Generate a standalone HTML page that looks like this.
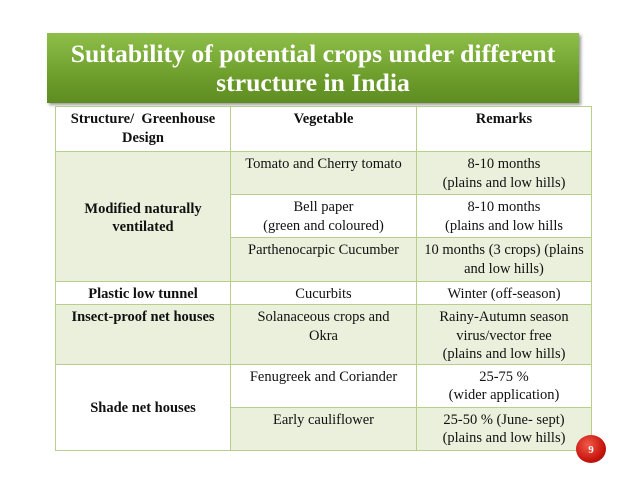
<!DOCTYPE html>
<html><head><meta charset="utf-8"><style>
body{margin:0;width:638px;height:493px;background:#fff;position:relative;overflow:hidden;font-family:"Liberation Serif",serif;}
#title{position:absolute;left:47px;top:33px;width:532px;height:70px;background:linear-gradient(#8fbf4a,#6e9e2c 60%,#5e8c22);box-shadow:2px 2px 3px #999;color:#fff;font-weight:bold;font-size:25.7px;line-height:29px;text-align:center;padding-top:6px;box-sizing:border-box;}
table{position:absolute;left:55px;top:106px;width:537px;border-collapse:collapse;font-size:14.5px;color:#111;}
td,th{border:1.5px solid #b8cf8a;text-align:center;vertical-align:top;padding:3px 4px 0 4px;line-height:18.5px;}
th{font-weight:bold;height:41px;}
.g{background:#eaf0dc}
.b{font-weight:bold}
.m{vertical-align:middle}
#tomato{position:absolute;left:576px;top:435px;width:30px;height:28px;border-radius:50%;background:radial-gradient(circle at 40% 35%,#f05a4a,#c9160f 60%,#8a0b06);color:#fff;font-size:11px;font-weight:bold;text-align:center;line-height:30px;}
</style></head><body>
<div id="title">Suitability of potential crops under different<br>structure in India</div>
<table>
<colgroup><col style="width:175px"><col style="width:186px"><col></colgroup>
<tr><th>Structure/&nbsp; Greenhouse Design</th><th>Vegetable</th><th>Remarks</th></tr>
<tr style="height:43px"><td rowspan="3" class="g b m">Modified naturally<br>ventilated</td><td class="g">Tomato and Cherry tomato</td><td class="g">8-10 months<br>(plains and low hills)</td></tr>
<tr style="height:43px"><td>Bell paper<br>(green and coloured)</td><td>8-10 months<br>(plains and low hills</td></tr>
<tr style="height:44px"><td class="g">Parthenocarpic Cucumber</td><td class="g">10 months (3 crops) (plains and low hills)</td></tr>
<tr style="height:23px"><td class="b">Plastic low tunnel</td><td>Cucurbits</td><td>Winter (off-season)</td></tr>
<tr style="height:59px" class="g"><td class="b">Insect-proof net houses</td><td>Solanaceous crops and<br>Okra</td><td>Rainy-Autumn season<br>virus/vector free<br>(plains and low hills)</td></tr>
<tr style="height:43px"><td rowspan="2" class="b m">Shade net houses</td><td>Fenugreek and Coriander</td><td>25-75 %<br>(wider application)</td></tr>
<tr style="height:43px" class="g"><td>Early cauliflower</td><td>25-50 % (June- sept)<br>(plains and low hills)</td></tr>
</table>
<div id="tomato">9</div>
</body></html>
